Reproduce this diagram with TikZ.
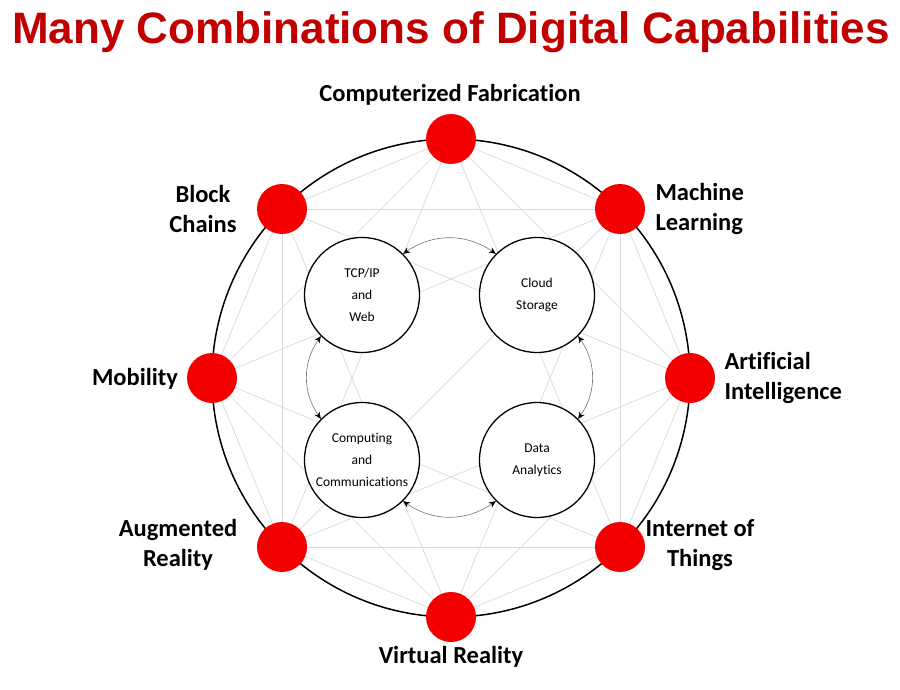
\documentclass[tikz,border=0pt]{standalone}
\usepackage{fontspec}
\setmainfont{Carlito}[Ligatures=NoCommon]
\newfontfamily\titlefont{Liberation Sans}
\usetikzlibrary{arrows.meta,calc}
\definecolor{ttl}{RGB}{192,0,0}
\definecolor{dotred}{RGB}{245,0,0}
\begin{document}
\begin{tikzpicture}[x=1pt,y=-1pt,
  dot/.style={circle,fill=dotred,minimum size=50pt,inner sep=0pt},
  inner/.style={circle,draw=black,line width=1.3pt,fill=white,minimum size=115pt,inner sep=0pt,align=center,font=\fontsize{13.5}{22}\selectfont},
  lab/.style={font=\fontsize{24.5}{30}\selectfont\bfseries,align=center},
  chord/.style={draw=black!15,line width=0.7pt},
  dbl/.style={draw=black!55,line width=0.6pt,{Stealth[black,length=7pt,width=6pt]}-{Stealth[black,length=7pt,width=6pt]}}]
\useasboundingbox (0,0) rectangle (900,690);
\node[font=\titlefont\fontsize{44}{46}\selectfont\bfseries,text=ttl] (title) at (451,32) {Many Combinations of Digital Capabilities};
\node[circle,draw=black,line width=1.5pt,minimum size=478pt,inner sep=0pt] (big) at (451,378) {};
\foreach \n/\a in {cf/90,ml/45,ai/0,iot/-45,vr/-90,ar/-135,mob/180,bc/135}
  \coordinate (\n) at ($(451,378)+(\a:239 and -239)$);
\foreach \a/\b in {cf/ml,cf/ai,cf/iot,cf/ar,cf/mob,cf/bc,ml/ai,ml/iot,ml/vr,ml/ar,ml/mob,ml/bc,ai/iot,ai/vr,ai/ar,ai/bc,iot/vr,iot/ar,iot/mob,vr/ar,vr/mob,vr/bc,ar/mob,mob/bc,ar/bc}
  \draw[chord] (\a) -- (\b);
\node[inner] (tcp) at (362,295) {TCP/IP\\and\\Web};
\node[inner] (cs) at (537,295) {Cloud\\Storage};
\node[inner] (cc) at (362,460) {Computing\\and\\Communications};
\node[inner] (da) at (537,460) {Data\\Analytics};
\draw[dbl] (tcp.45) to[bend left=35] (cs.135);
\draw[dbl] (tcp.225) to[bend right=35] (cc.135);
\draw[dbl] (cs.-45) to[bend left=35] (da.45);
\draw[dbl] (cc.-45) to[bend right=35] (da.-135);
\foreach \n in {cf,ml,ai,iot,vr,ar,mob,bc} \node[dot] (d\n) at (\n) {};
\node[lab] (lcf) at (450,95) {Computerized Fabrication};
\node[lab] (lbc) at (203,209) {Block\\Chains};
\node[lab,align=left,anchor=west] (lml) at (652,209) {Machine\\Learning};
\node[lab] (lmob) at (135,379) {Mobility};
\node[lab,align=left,anchor=west] (lai) at (721,378) {Artificial\\Intelligence};
\node[lab] (lar) at (178,545) {Augmented\\Reality};
\node[lab] (liot) at (700,545) {Internet of\\Things};
\node[lab] (lvr) at (451,657) {Virtual Reality};
\end{tikzpicture}
\end{document}
